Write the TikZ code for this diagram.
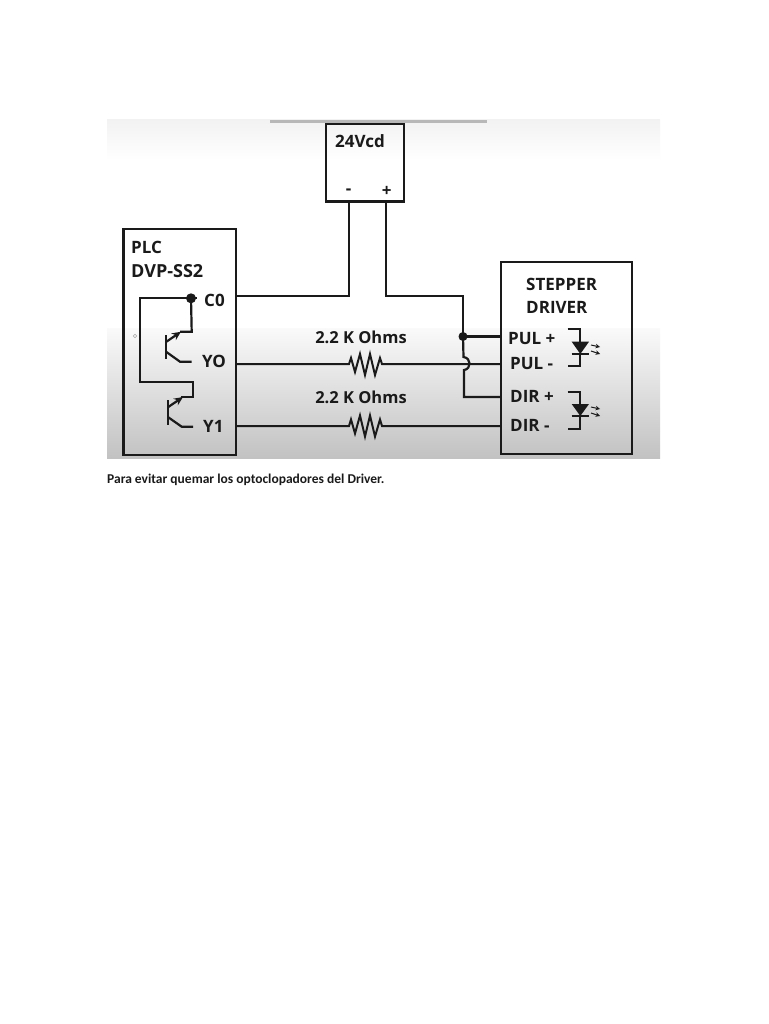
\documentclass[tikz,border=0pt]{standalone}
\usepackage{fontspec}
\setmainfont{Open Sans}
\newfontfamily\capfont{Carlito}
\usetikzlibrary{arrows.meta}
\definecolor{ink}{HTML}{1A1A1A}
\tikzset{
  wire/.style={draw=ink,line width=2.2pt,line join=miter},
  boxnode/.style={draw=ink,line width=2.3pt,fill=none,inner sep=0pt,outer sep=0pt,anchor=north west},
  lab/.style={font=\bfseries\fontsize{17}{17}\selectfont,text=ink,inner sep=0pt},
  labr/.style={font=\bfseries\fontsize{16.5}{16.5}\selectfont,text=ink,inner sep=0pt},
  labl/.style={lab,anchor=west},
  dotnode/.style={circle,fill=ink,inner sep=0pt,minimum size=9pt},
  res/.style={draw=ink,line width=2pt,line join=miter},
  emit/.style={draw=ink,line width=1pt,-{Stealth[length=4.5pt,width=4.5pt]}},
  baseArrow/.style={wire,-{Stealth[length=9pt,width=8pt]}},
}
\begin{document}
\begin{tikzpicture}[x=1pt,y=-1pt]
\useasboundingbox (0,0) rectangle (768,1024);
\fill[white] (0,0) rectangle (768,1024);
% background panel
\shade[top color=black!5,bottom color=white] (107,120) rectangle (660,160);
\shade[top color=black!2,bottom color=black!24] (107,328) rectangle (660,458);
\fill[black!28] (270,120.5) rectangle (487,123);
\draw[black!35,line width=.6pt] (135,336) circle (1.8);
% boxes
\node[boxnode,minimum width=78pt,minimum height=77.5pt] (vbox) at (326,124) {};
\node[boxnode,minimum width=112.5pt,minimum height=226pt] (plc) at (123.5,229) {};
\node[boxnode,minimum width=131.5pt,minimum height=192.5pt] (drv) at (500.7,261.7) {};
% labels
\node[lab] (tv) at (360,141) {24Vcd};
\node[lab] (tm) at (348.7,191.5) {-};
\node[lab] (tp) at (386.7,191) {+};
\node[labl] (t1) at (131,247) {PLC};
\node[labl,font=\bfseries\fontsize{18}{18}\selectfont] (t2) at (131,271) {DVP-SS2};
\node[labl] (t3) at (204,300.5) {C0};
\node[labl] (t4) at (202,361.5) {YO};
\node[labl] (t5) at (203,426.5) {Y1};
\node[labl] (t6) at (526,284.5) {STEPPER};
\node[labl] (t7) at (526,307.5) {DRIVER};
\node[labl] (t8) at (508,338.5) {PUL +};
\node[labl] (t9) at (510,363.5) {PUL -};
\node[labl] (t10) at (510,396.5) {DIR +};
\node[labl] (t11) at (510,425.5) {DIR -};
\node[labr] (r1t) at (361,337) {2.2 K Ohms};
\node[labr] (r2t) at (361,397) {2.2 K Ohms};
% anchors
\coordinate (c0out) at (236,296);
\coordinate (y0out) at (236,364);
\coordinate (y1out) at (236,426);
\coordinate (vm) at (349,201.5);
\coordinate (vp) at (386,201.5);
\coordinate (pulp) at (500.7,336.5);
\coordinate (pulm) at (500.7,364);
\coordinate (dirp) at (500.7,397);
\coordinate (dirm) at (500.7,426);
\node[dotnode] (jn) at (463,336.5) {};
\node[dotnode,minimum size=10pt] (c0dot) at (191,298.3) {};
% external wires
\draw[wire] (c0out) -- (349,296) -- (vm);
\draw[wire] (vp) -- (386,296) -- (463,296) -- (jn.center);
\draw[wire] (jn.center) -- (pulp);
\draw[wire] (jn.center) -- (463.5,357) .. controls (471.5,358) and (471.5,369) .. (464,370) -- (464,397) -- (dirp);
% resistors
\draw[res] (y0out) -- (349,364) -- (351,358) -- (355,372) -- (360,354) -- (365,375) -- (370,354) -- (375,375) -- (380,358) -- (382,364) -- (pulm);
\draw[res] (y1out) -- (349,426) -- (351,419.5) -- (355,433.5) -- (360,415.5) -- (365,436.5) -- (370,415.5) -- (375,436.5) -- (380,419.5) -- (382,426) -- (dirm);
% PLC internals
\draw[wire] (c0dot.center) -- (197,298.3);
\draw[wire] (c0dot.center) -- (140.3,298.3) -- (140.3,382) -- (193,382) -- (193,397) -- (181,397);
\draw[wire] (c0dot.center) -- (191.7,331.7) -- (180,331.7);
\draw[wire] (166,335) -- (166,359);
\draw[wire] (166,351.7) -- (180,361.7) -- (191.7,361.7);
\draw[baseArrow] (166,342) -- (181,331.7);
\draw[wire] (168.3,400) -- (168.3,425);
\draw[wire] (168.3,417.3) -- (181.7,426.7) -- (193,426.7);
\draw[baseArrow] (168.3,407) -- (183,397);
% LEDs
\draw[wire] (567.7,329) -- (580.3,329) -- (580.3,342);
\fill[ink] (571.7,341.7) -- (589,341.7) -- (580.3,354) -- cycle;
\draw[wire] (571.7,354) -- (589,354);
\draw[wire] (580.3,354) -- (580.3,366) -- (567.7,366);
\draw[emit] (591,345) -- (600,347);
\draw[emit] (591,351) -- (600,354);
\draw[wire] (567.7,391.7) -- (580.3,391.7) -- (580.3,404);
\fill[ink] (571.7,404) -- (589,404) -- (580.3,416) -- cycle;
\draw[wire] (571.7,416) -- (589,416);
\draw[wire] (580.3,416) -- (580.3,428.7) -- (567.7,428.7);
\draw[emit] (591,407) -- (600,409);
\draw[emit] (591,413) -- (600,416);
% caption
\node[anchor=west,inner sep=0pt,font=\capfont\bfseries\fontsize{13.5}{13.5}\selectfont,text=ink] (cap) at (107,480) {Para evitar quemar los optoclopadores del Driver.};
\end{tikzpicture}
\end{document}
